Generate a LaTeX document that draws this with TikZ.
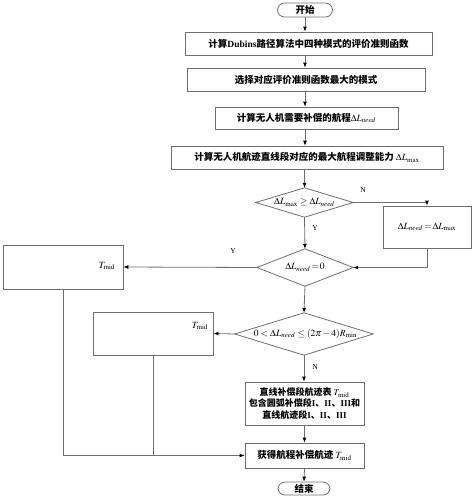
\documentclass[tikz,border=0pt]{standalone}
\usepackage{mathptmx}
\usepackage{fontspec}
\setmainfont{Liberation Serif}
\newfontfamily\zh{Noto Sans CJK SC}
\newcommand{\lat}[1]{{\fontspec{Liberation Serif}\bfseries #1}}
\usetikzlibrary{arrows.meta}
\definecolor{lncol}{RGB}{110,110,110}
\tikzset{
  box/.style={draw=lncol, line width=0.8pt, inner sep=0pt, align=center,
    font=\zh\bfseries\fontsize{9.5}{11.5}\selectfont},
  pill/.style={box, rounded corners=7pt},
  dia/.style={inner sep=0pt, font=\fontsize{9.5}{11}\selectfont},
  diaedge/.style={draw=lncol, line width=0.8pt},
  conn/.style={draw=lncol, line width=0.8pt, -{Latex[length=5pt,width=4pt,color=black]}},
  plain/.style={draw=lncol, line width=0.8pt},
  lab/.style={font=\fontsize{7.5}{9}\selectfont, inner sep=0pt}
}
\begin{document}
\begin{tikzpicture}[x=1pt,y=-1pt]
\useasboundingbox (0,0) rectangle (474,501);
\node[pill, minimum width=55pt, minimum height=14pt] (start) at (305,10) {开始};
\node[box, minimum width=247pt, minimum height=23pt] (b1) at (308.5,43.5) {计算\lat{Dubins}路径算法中四种模式的评价准则函数};
\node[box, minimum width=238pt, minimum height=23pt] (b2) at (306,79.5) {选择对应评价准则函数最大的模式};
\node[box, minimum width=183pt, minimum height=22pt] (b3) at (306.5,118) {计算无人机需要补偿的航程$\Delta L_{need}$};
\node[box, minimum width=272pt, minimum height=23pt] (b4) at (307,157.5) {计算无人机航迹直线段对应的最大航程调整能力 $\Delta L_{\mathrm{max}}$};
\node[dia, minimum width=97pt, minimum height=29pt] (d1) at (304.5,202.5) {$\Delta L_{\mathrm{max}}\geq\Delta L_{need}$};
\draw[diaedge] (d1.north) -- (d1.east) -- (d1.south) -- (d1.west) -- cycle;
\node[box, font=\fontsize{9.5}{11}\selectfont, minimum width=88pt, minimum height=42pt] (br) at (427,227) {$\Delta L_{need}\!=\!\Delta L_{\mathrm{max}}$};
\node[dia, minimum width=96pt, minimum height=37pt] (d2) at (305,267.5) {$\Delta L_{need}\!=\!0$};
\draw[diaedge] (d2.north) -- (d2.east) -- (d2.south) -- (d2.west) -- cycle;
\node[box, minimum width=120pt, minimum height=44pt] (bl1) at (63,267) {};
\node[lab, font=\fontsize{9.5}{11}\selectfont] (t1) at (107,266) {$T_{\mathrm{mid}}$};
\node[dia, minimum width=138pt, minimum height=42pt] (d3) at (304,334) {\hspace*{3pt}$0<\Delta L_{need}\leq(2\pi-4)R_{\mathrm{min}}$};
\draw[diaedge] (d3.north) -- (d3.east) -- (d3.south) -- (d3.west) -- cycle;
\node[box, minimum width=120pt, minimum height=43pt] (bl2) at (153,333.5) {};
\node[lab, font=\fontsize{9.5}{11}\selectfont] (t2) at (200,326) {$T_{\mathrm{mid}}$};
\node[box, font=\zh\bfseries\fontsize{9}{11.5}\selectfont, minimum width=119pt, minimum height=43pt] (b5) at (304.5,403.5) {直线补偿段航迹表 $T_{\mathrm{mid}}$\\包含圆弧补偿段\lat{I}、\lat{II}、\lat{III}和\\直线航迹段\lat{I}、\lat{II}、\lat{III}};
\node[box, minimum width=119pt, minimum height=25pt] (b6) at (304.5,455.5) {获得航程补偿航迹 $T_{\mathrm{mid}}$};
\node[pill, minimum width=52pt, minimum height=13pt] (end) at (304,488.5) {结束};
% connectors
\draw[conn] (start.south) -- (start.south |- b1.north);
\draw[conn] (b1.south -| start) -- (start |- b2.north);
\draw[conn] (b2.south -| start) -- (start |- b3.north);
\draw[conn] (b3.south -| start) -- (start |- b4.north);
\draw[conn] (b4.south -| d1) -- (d1.north);
\draw[conn] (d1.east) -| (br.north);
\node[lab] (n1) at (363,190) {N};
\draw[conn] (d1.south) -- (d2.north);
\node[lab] (y1) at (315,228) {Y};
\draw[conn] (br.south) |- (d2.east);
\draw[conn] (d2.west) -- (bl1.east);
\node[lab] (y2) at (233,251) {Y};
\draw[conn] (d2.south) -- (d3.north);
\draw[conn] (d3.west) -- (bl2.east);
\draw[conn] (d3.south) -- (d3.south |- b5.north);
\node[lab] (n2) at (315,367) {N};
\draw[conn] (b5.south) -- (b6.north);
\draw[conn] (b6.south) -- (end.north);
\draw[conn] (bl1.south) |- (b6.west);
\draw[plain] (bl2.south) -- (bl2.south |- b6.west);
\end{tikzpicture}
\end{document}
